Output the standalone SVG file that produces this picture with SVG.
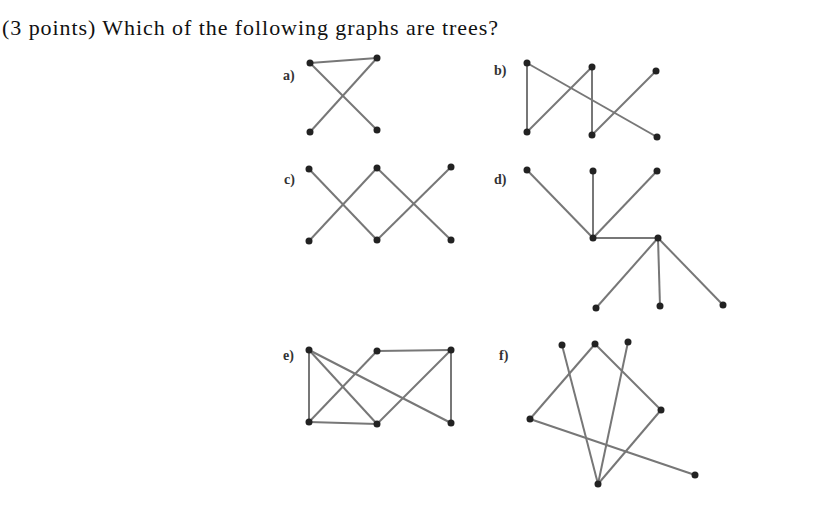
<svg xmlns="http://www.w3.org/2000/svg" width="827" height="506" viewBox="0 0 827 506">
<style>
.e line{stroke:#777;stroke-width:2}
circle{fill:#222}
.l{font-family:"Liberation Serif",serif;font-weight:bold;font-size:14px;fill:#333}
</style>
<rect width="827" height="506" fill="#fff"/>
<text x="2" y="35" font-family="Liberation Serif,serif" font-size="22" fill="#111" textLength="496" lengthAdjust="spacing">(3 points) Which of the following graphs are trees?</text>
<g class="e" id="connectors">
<line x1="310" y1="63" x2="377" y2="58"/><line x1="310" y1="63" x2="377" y2="130"/><line x1="377" y1="58" x2="310" y2="132"/>
<line x1="527" y1="63" x2="527" y2="132"/><line x1="527" y1="63" x2="657" y2="137"/><line x1="527" y1="132" x2="592" y2="67"/><line x1="592" y1="67" x2="592" y2="135"/><line x1="592" y1="135" x2="656" y2="71"/>
<line x1="309" y1="169" x2="377" y2="240"/><line x1="309" y1="241" x2="377" y2="168"/><line x1="377" y1="168" x2="451" y2="240"/><line x1="377" y1="240" x2="451" y2="167"/>
<line x1="527" y1="170" x2="593" y2="238"/><line x1="593" y1="171" x2="593" y2="238"/><line x1="657" y1="171" x2="593" y2="238"/><line x1="593" y1="238" x2="658" y2="238"/><line x1="658" y1="238" x2="596" y2="308"/><line x1="658" y1="238" x2="660" y2="306"/><line x1="658" y1="238" x2="723" y2="305"/>
<line x1="309" y1="350" x2="309" y2="422"/><line x1="309" y1="350" x2="377" y2="424"/><line x1="309" y1="350" x2="451" y2="423"/><line x1="377" y1="351" x2="451" y2="350"/><line x1="377" y1="351" x2="309" y2="422"/><line x1="309" y1="422" x2="377" y2="424"/><line x1="377" y1="424" x2="451" y2="350"/><line x1="451" y1="350" x2="451" y2="423"/>
<line x1="562" y1="345" x2="598" y2="484"/><line x1="628" y1="342" x2="598" y2="484"/><line x1="595" y1="344" x2="530" y2="419"/><line x1="595" y1="344" x2="661" y2="410"/><line x1="661" y1="410" x2="598" y2="484"/><line x1="530" y1="419" x2="695" y2="475"/>
</g>
<g id="graph-a"><text class="l" x="283" y="80">a)</text><circle cx="310" cy="63" r="3.5"/><circle cx="377" cy="58" r="3.5"/><circle cx="310" cy="132" r="3.5"/><circle cx="377" cy="130" r="3.5"/></g>
<g id="graph-b"><text class="l" x="494" y="75">b)</text><circle cx="527" cy="63" r="3.5"/><circle cx="592" cy="67" r="3.5"/><circle cx="656" cy="71" r="3.5"/><circle cx="527" cy="132" r="3.5"/><circle cx="592" cy="135" r="3.5"/><circle cx="657" cy="137" r="3.5"/></g>
<g id="graph-c"><text class="l" x="284" y="184">c)</text><circle cx="309" cy="169" r="3.5"/><circle cx="377" cy="168" r="3.5"/><circle cx="451" cy="167" r="3.5"/><circle cx="309" cy="241" r="3.5"/><circle cx="377" cy="240" r="3.5"/><circle cx="451" cy="240" r="3.5"/></g>
<g id="graph-d"><text class="l" x="494" y="184">d)</text><circle cx="527" cy="170" r="3.5"/><circle cx="593" cy="171" r="3.5"/><circle cx="657" cy="171" r="3.5"/><circle cx="593" cy="238" r="3.5"/><circle cx="658" cy="238" r="3.5"/><circle cx="596" cy="308" r="3.5"/><circle cx="660" cy="306" r="3.5"/><circle cx="723" cy="305" r="3.5"/></g>
<g id="graph-e"><text class="l" x="283" y="360">e)</text><circle cx="309" cy="350" r="3.5"/><circle cx="377" cy="351" r="3.5"/><circle cx="451" cy="350" r="3.5"/><circle cx="309" cy="422" r="3.5"/><circle cx="377" cy="424" r="3.5"/><circle cx="451" cy="423" r="3.5"/></g>
<g id="graph-f"><text class="l" x="499" y="360">f)</text><circle cx="562" cy="345" r="3.5"/><circle cx="595" cy="344" r="3.5"/><circle cx="628" cy="342" r="3.5"/><circle cx="530" cy="419" r="3.5"/><circle cx="661" cy="410" r="3.5"/><circle cx="598" cy="484" r="3.5"/><circle cx="695" cy="475" r="3.5"/></g>
</svg>
